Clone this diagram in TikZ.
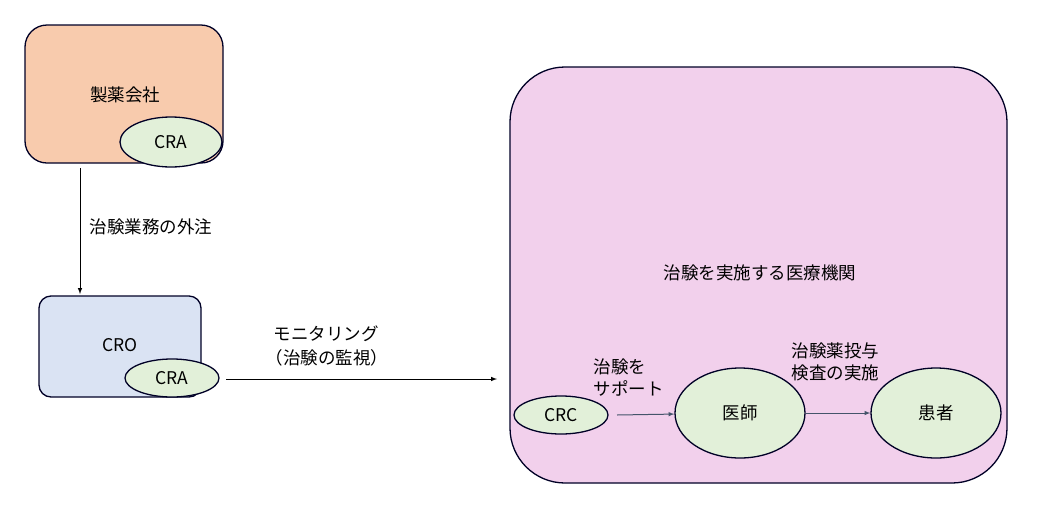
\documentclass[tikz,border=0pt]{standalone}
\usepackage{fontspec}
\usetikzlibrary{shapes.geometric}
\setmainfont{Noto Sans CJK JP}
\definecolor{salmon}{RGB}{248,203,173}
\definecolor{steel}{RGB}{68,84,106}
\definecolor{lgreen}{RGB}{226,240,217}
\begin{document}
\begin{tikzpicture}[x=1pt,y=-1pt,
  box/.style={draw=black!85!blue,line width=1.3pt},
  ell/.style={ellipse,draw=black!85!blue,line width=1.3pt,fill=lgreen,inner sep=0pt},
  lbl/.style={font=\fontsize{17.5}{22}\selectfont},
  arr/.style={->,>=latex,line width=1pt},
  barr/.style={->,>=latex,line width=1pt,draw=steel}]
\useasboundingbox (0,0) rectangle (1042,528);
\draw[box,fill=salmon,rounded corners=22pt] (25,25) rectangle (223,163);
\node[lbl] (pharma) at (125,95) {製薬会社};
\node[ell,minimum width=102pt,minimum height=50pt,lbl] (cra1) at (171,142) {CRA};
\draw[box,fill={rgb,255:red,218;green,227;blue,243},rounded corners=12pt] (39,296) rectangle (201,397);
\node[lbl] (cro) at (120,345) {CRO};
\node[ell,minimum width=94pt,minimum height=38pt,lbl] (cra2) at (172,378) {CRA};
\coordinate (a1) at (80,168); \coordinate (a2) at (80,294);
\draw[arr] (a1) -- (a2);
\node[lbl,anchor=west] (l1) at (86,227) {治験業務の外注};
\draw[box,fill={rgb,255:red,242;green,208;blue,236},rounded corners=55pt] (510,67) rectangle (1007,483);
\node[lbl] (hosp) at (760,273) {治験を実施する医療機関};
\coordinate (b1) at (226,379); \coordinate (b2) at (497,379);
\draw[arr] (b1) -- (b2);
\node[lbl,anchor=west] (l2) at (270,334) {モニタリング};
\node[lbl,anchor=west] (l3) at (262,358) {（治験の監視）};
\node[ell,minimum width=94pt,minimum height=38pt,lbl] (crc) at (561,415) {CRC};
\node[ell,minimum width=130pt,minimum height=90pt,lbl] (doc) at (740,413) {医師};
\node[ell,minimum width=130pt,minimum height=90pt,lbl] (pat) at (936,413) {患者};
\coordinate (c1) at (617,415);
\draw[barr] (c1) -- (doc);
\draw[barr] (doc) -- (pat);
\node[lbl,anchor=west,align=left] (l4) at (590,378) {治験を\\サポート};
\node[lbl,anchor=west,align=left] (l5) at (788,362) {治験薬投与\\検査の実施};
\end{tikzpicture}
\end{document}
